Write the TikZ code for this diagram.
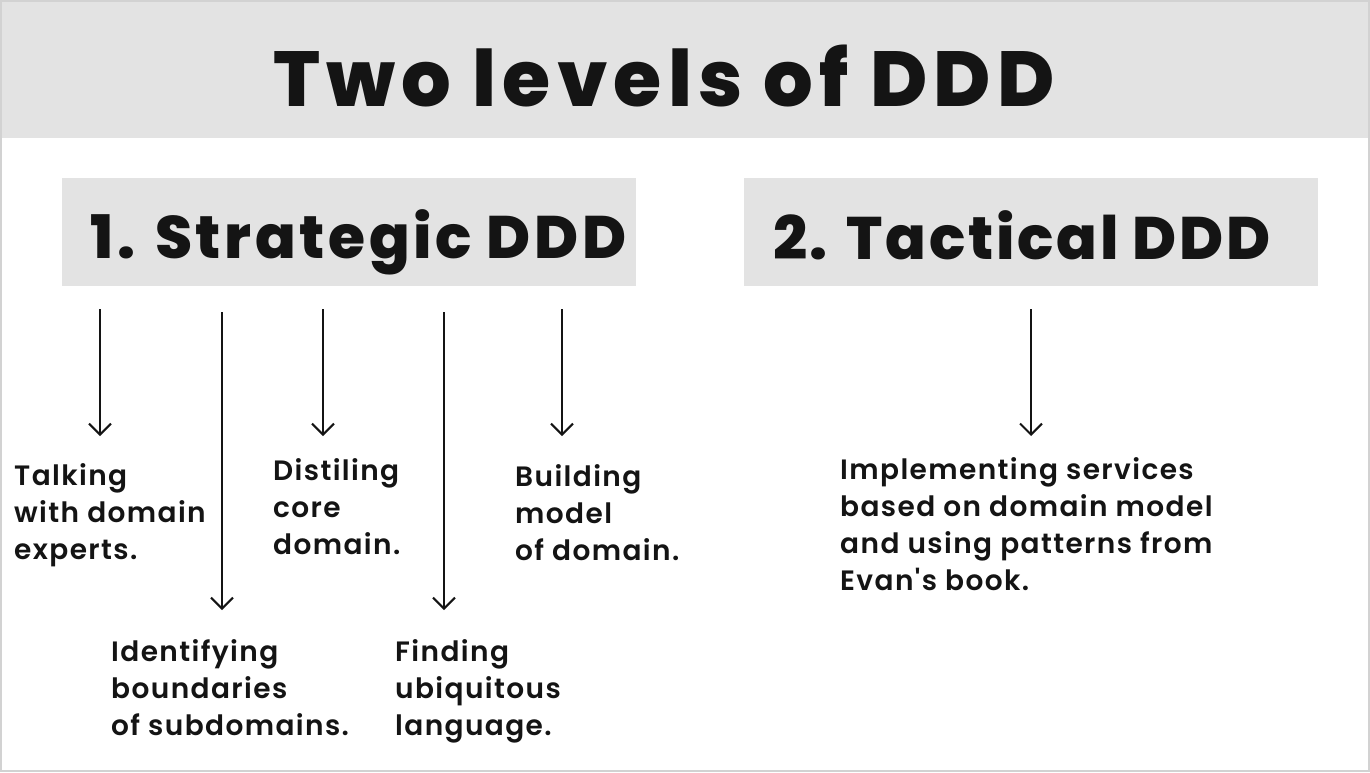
\documentclass[tikz,border=0pt]{standalone}
\usepackage{fontspec}
\usepackage{tikz}
\usetikzlibrary{arrows.meta}
\setmainfont{Poppins SemiBold}[LetterSpace=5,Ligatures=TeXOff]
\newfontfamily\headfont{Poppins ExtraBold}[LetterSpace=4.5]
\newfontfamily\stratfont{Poppins ExtraBold}[LetterSpace=6]
\newfontfamily\titlefont{Poppins ExtraBold}[LetterSpace=8]
\definecolor{bandgray}{HTML}{E3E3E3}
\definecolor{framegray}{HTML}{D2D2D2}
\definecolor{ink}{HTML}{141414}
\tikzset{arrow/.style={-{Straight Barb[length=11pt,width=22pt]}, line width=2pt, ink},
  item/.style={anchor=base west, inner sep=0pt, align=left, text=ink,
    font=\fontsize{28}{37.3}\selectfont},
  heading/.style={anchor=base west, inner sep=0pt, text=ink}}

\begin{document}
\begin{tikzpicture}[x=1pt,y=-1pt]
        \useasboundingbox (0,0) rectangle (1370,772);

        % title band and frame
        \fill[bandgray] (0,0) rectangle (1370,138);
        \draw[framegray, line width=2pt] (1,1) rectangle (1369,771);
        \node[heading, font=\titlefont\fontsize{78}{78}\selectfont] (title) at (273,106) {Two levels of DDD};

        % the two levels
        \fill[bandgray] (62,178) rectangle (636,286);
        \fill[bandgray] (744,178) rectangle (1318,286);
        \node[heading, font=\stratfont\fontsize{60}{60}\selectfont] (strategic) at (90,258) {1. Strategic DDD};
        \node[heading, font=\headfont\fontsize{60}{60}\selectfont] (tactical) at (773,259) {2. Tactical DDD};

        % base anchor sits on the last line
        \node[item] (talking) at (14,559.6) {Talking\\with domain\\experts.};
        \node[item] (identifying) at (111,735.6) {Identifying\\boundaries\\of subdomains.};
        \node[item] (distiling) at (273,554.6) {Distiling\\core\\domain.};
        \node[item] (finding) at (395,735.6) {Finding\\ubiquitous\\language.};
        \node[item] (building) at (515,560.6) {Building\\model\\of domain.};
        \node[item] (implementing) at (840,590.9) {Implementing services\\based on domain model\\and using patterns from\\Evan's book.};

        \coordinate (s1) at (100,309);  \coordinate (e1) at (100,436);
        \coordinate (s2) at (222,312);  \coordinate (e2) at (222,610);
        \coordinate (s3) at (323,309);  \coordinate (e3) at (323,436);
        \coordinate (s4) at (444,312);  \coordinate (e4) at (444,610);
        \coordinate (s5) at (562,309);  \coordinate (e5) at (562,436);
        \coordinate (s6) at (1031,309); \coordinate (e6) at (1031,436);
        \foreach \i in {1,...,6}
            \draw[arrow] (s\i) -- (e\i);
    \end{tikzpicture}
\end{document}
